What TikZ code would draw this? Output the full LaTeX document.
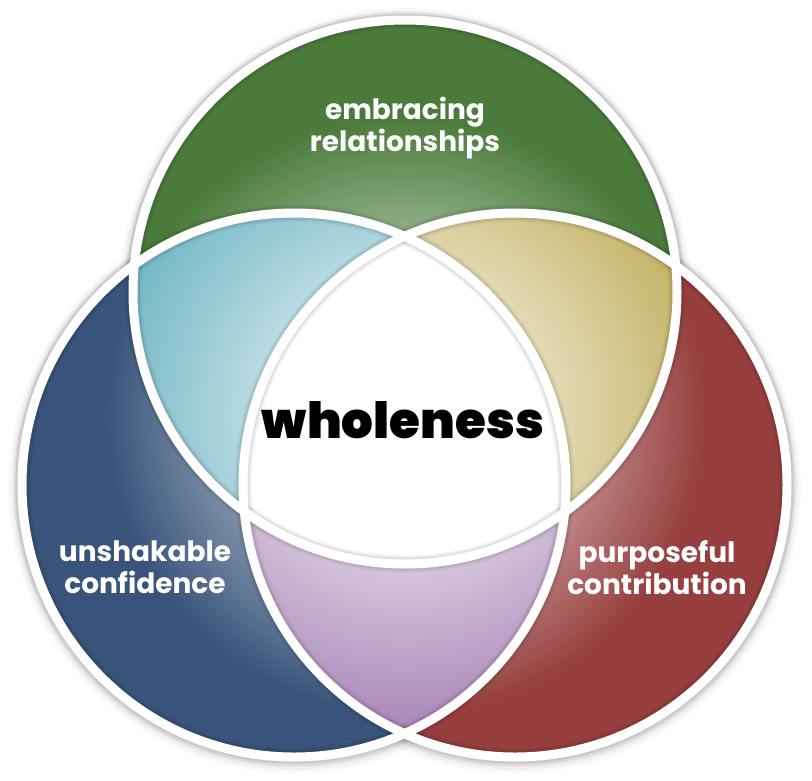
\documentclass[tikz,border=0pt]{standalone}
\usepackage{fontspec}
\usepackage{tikz}
\newfontfamily\labelfont{Poppins}
\newfontfamily\heavyfont{Poppins Black}
\definecolor{relgreen}{RGB}{74,123,58}
\definecolor{confblue}{RGB}{56,84,122}
\definecolor{contred}{RGB}{150,63,62}
\definecolor{lensteal}{RGB}{98,174,190}
\definecolor{lensgold}{RGB}{190,170,86}
\definecolor{lensplum}{RGB}{162,125,178}
\tikzset{%
  ring/.style={draw=white, line width=9pt},% white outline of a circle
  ringshadow/.style={draw=black, line width=#1},% soft edge under the outline
  glow/.style={inner color=white, outer color=#1},% light towards the middle
  areatext/.style={text=white, align=center, font=\labelfont\bfseries\fontsize{28}{32}\selectfont},
  centretext/.style={text=black, font=\heavyfont\fontsize{50}{50}\selectfont}
}
\newcommand*{\rad}{272pt}

\begin{document}
\begin{tikzpicture}[x=1pt, y=-1pt]
\useasboundingbox (0,0) rectangle (812,780);
\coordinate (top) at (405,292);
\coordinate (left) at (294,485);
\coordinate (right) at (515,485);
\coordinate (mid) at (405,415);

% soft shadow round the outer edge
\foreach \w/\o in {28/0.025, 22/0.035, 16/0.05} {
  \foreach \c in {top,left,right}
    \draw[black, opacity=\o, line width=\w pt] ([yshift=-2pt]\c) circle (\rad);
}

\foreach \c/\col in {top/relgreen, left/confblue, right/contred} {
  \begin{scope}
    \clip (\c) circle (\rad);
    \fill[\col] (\c) circle (\rad);
    \shade[glow=\col] (mid) circle (300pt);
  \end{scope}
}
\foreach \a/\b/\col in {top/left/lensteal, top/right/lensgold, left/right/lensplum} {
  \begin{scope}
    \clip (\a) circle (\rad);
    \clip (\b) circle (\rad);
    \fill[\col] (\a) circle (\rad);
    \shade[glow=\col] (mid) circle (340pt);
  \end{scope}
}

\begin{scope}
  \clip (top) circle (\rad);
  \clip (left) circle (\rad);
  \fill[white] (right) circle (\rad);
\end{scope}

\foreach \c in {top,left,right} {
  \draw[ringshadow=17pt, opacity=0.05] (\c) circle (\rad);
  \draw[ringshadow=13pt, opacity=0.07] (\c) circle (\rad);
}
\foreach \c in {top,left,right}
  \draw[ring] (\c) circle (\rad);

\node[centretext] (wh) at (403,420) {wholeness};
\node[areatext] (er) at (405,128) {embracing\\relationships};
\node[areatext] (uc) at (145,567) {unshakable\\confidence};
\node[areatext] (pc) at (657,568) {purposeful\\contribution};
\end{tikzpicture}
\end{document}
